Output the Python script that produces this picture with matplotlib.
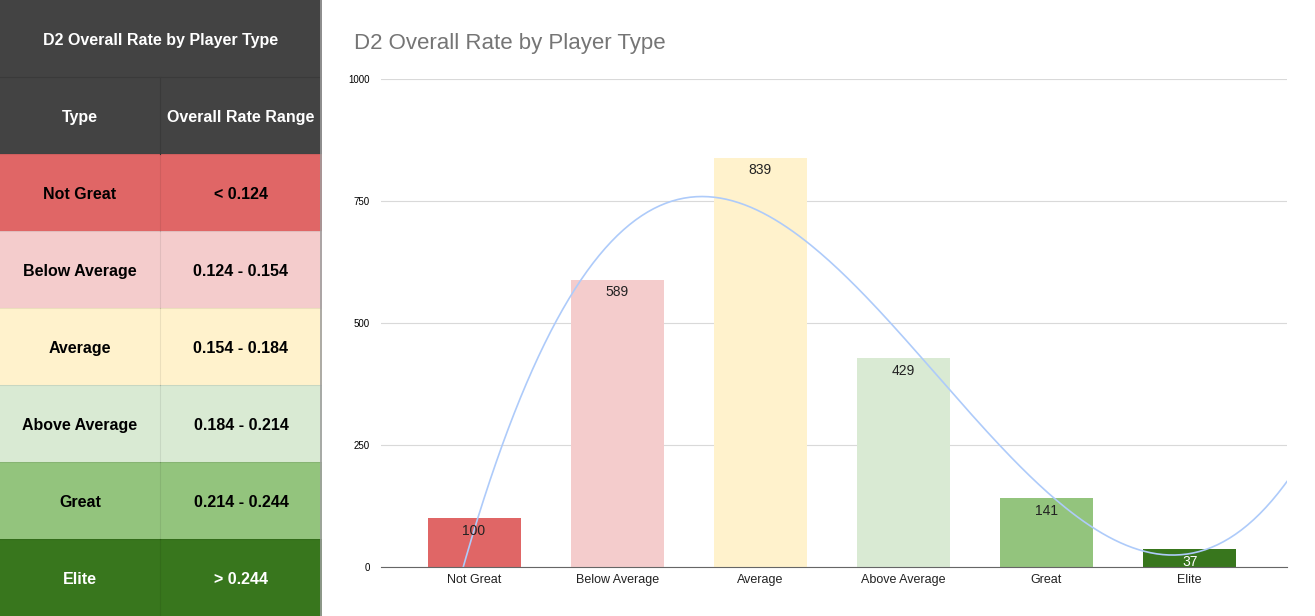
import matplotlib.pyplot as plt
from matplotlib.patches import Rectangle
import numpy as np

plt.rcParams['font.family'] = ['Liberation Sans', 'DejaVu Sans']

chart_title = 'D2 Overall Rate by Player Type'
types = ['Not Great', 'Below Average', 'Average', 'Above Average', 'Great', 'Elite']
counts = [100, 589, 839, 429, 141, 37]
ranges = ['< 0.124', '0.124 - 0.154', '0.154 - 0.184', '0.184 - 0.214', '0.214 - 0.244', '> 0.244']
colors = ['#e06666', '#f4cccc', '#fff2cc', '#d9ead3', '#93c47d', '#38761d']
label_colors = ['#222222'] * 5 + ['white']
table_text_colors = ['black'] * 5 + ['white']
yticks = [0, 250, 500, 750, 1000]

W, H = 1315, 616
fig = plt.figure(figsize=(W / 100, H / 100), dpi=100)

# ---- left table, drawn in pixel coords ----
tw = 322
tab = fig.add_axes((0, 0, tw / W, 1))
tab.set_xlim(0, tw)
tab.set_ylim(H, 0)
tab.axis('off')
hdr = '#434343'
rh = 77
col = 160
dy = 2  # text sits a little below the cell middle
tab.add_patch(Rectangle((0, 0), tw, rh, facecolor=hdr, edgecolor='none'))
tab.text(tw / 2, rh / 2 + dy, chart_title, color='white', fontsize=11.5, fontweight='bold', ha='center', va='center')
tab.add_patch(Rectangle((0, rh), tw, rh, facecolor=hdr, edgecolor='none'))
tab.text(col / 2, rh * 1.5 + dy, 'Type', color='white', fontsize=11.5, fontweight='bold', ha='center', va='center')
tab.text((col + tw) / 2, rh * 1.5 + dy, 'Overall Rate Range', color='white', fontsize=11.5, fontweight='bold', ha='center', va='center')
tab.plot([0, tw], [rh, rh], color='#3a3a3a', lw=0.8)
tab.plot([col, col], [rh, 2 * rh], color='#3a3a3a', lw=0.8)
for i in range(len(types)):
    y0 = rh * (2 + i)
    tab.add_patch(Rectangle((0, y0), tw, rh, facecolor=colors[i], edgecolor='none'))
    tab.plot([0, tw], [y0, y0], color='black', alpha=0.08, lw=0.8)
    tab.plot([col, col], [y0, y0 + rh], color='black', alpha=0.08, lw=0.8)
    tab.text(col / 2, y0 + rh / 2 + dy, types[i], color=table_text_colors[i], fontsize=11.5, fontweight='bold', ha='center', va='center')
    tab.text((col + tw) / 2, y0 + rh / 2 + dy, ranges[i], color=table_text_colors[i], fontsize=11.5, fontweight='bold', ha='center', va='center')
tab.plot([tw - 0.5, tw - 0.5], [0, H], color='#9e9e9e', lw=1.2, clip_on=False)

# ---- bar chart ----
ax = fig.add_axes((381 / W, 49 / H, (1287 - 381) / W, (567 - 79) / H))
x = np.arange(len(types))
ax.bar(x, counts, width=0.65, color=colors, zorder=2)
for xi, c, lc in zip(x, counts, label_colors):
    ax.text(xi, c - 12, str(c), ha='center', va='top', fontsize=10, color=lc, zorder=4)

# cubic trendline like the sheet's polynomial trend
coef = np.polyfit(x, counts, 3)
xs = np.linspace(-0.65, 5.68, 300)
ax.plot(xs, np.polyval(coef, xs), color='#aecbfa', lw=1.2, zorder=3)

ax.set_xlim(-0.65, 5.68)
ax.set_ylim(0, 1000)
ax.set_yticks(yticks)
ax.set_xticks(x)
ax.set_xticklabels(types, fontsize=9, color='#222222')
ax.tick_params(axis='y', labelsize=7, length=0, pad=8)
ax.tick_params(axis='x', length=0, pad=5)
ax.grid(axis='y', color='#d9d9d9', lw=0.8, zorder=0)
for s in ['top', 'right', 'left']:
    ax.spines[s].set_visible(False)
ax.spines['bottom'].set_color('#666666')
ax.spines['bottom'].set_zorder(5)

fig.text(354 / W, 1 - 43 / H, chart_title, fontsize=16, color='#757575', ha='left', va='center')

plt.savefig('out.png', dpi=100)
